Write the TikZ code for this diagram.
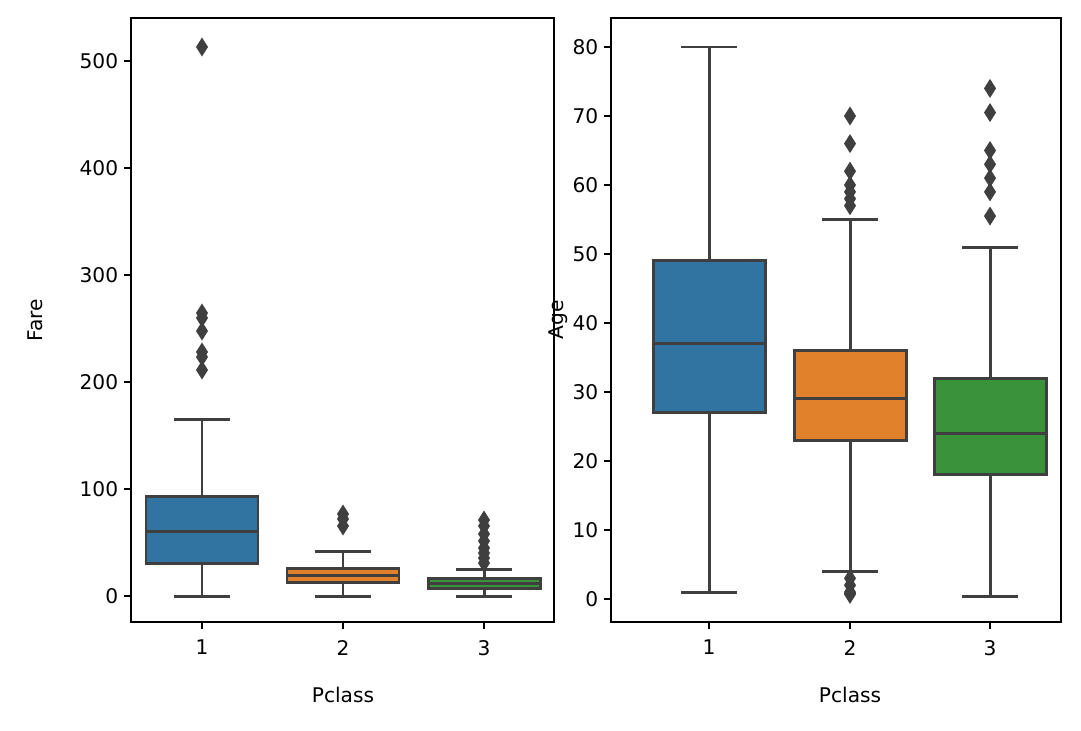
\documentclass[tikz,border=0pt]{standalone}
\usepackage{fontspec}
\setmainfont{DejaVu Sans}
\usetikzlibrary{shapes.geometric}
\definecolor{boxblue}{HTML}{3274A1}
\definecolor{boxorange}{HTML}{E1812C}
\definecolor{boxgreen}{HTML}{3A923A}
\definecolor{edgegray}{HTML}{3F3F3F}

\begin{document}
\begin{tikzpicture}[x=0.02cm, y=-0.02cm, font=\fontsize{11.5}{13}\selectfont,
                boxpart/.style ={draw=edgegray, line width=1.7pt},
                whisk/.style ={edgegray, line width=1.7pt},
                outl/.style ={diamond, fill=edgegray, inner sep=0pt, minimum width=7pt, minimum height=11pt},
                tick/.style ={black, line width=0.6pt}]
            \useasboundingbox (0,0) rectangle (1081,730);

            % left panel: Fare
            \foreach \v/\p in {0/596, 100/489, 200/382, 300/275, 400/168, 500/61}{
                \draw[tick] (131,\p) -- (124,\p) node[left, inner sep=3pt] {\v};}
            \foreach \c/\k in {202/1, 343/2, 484/3}{
                \draw[tick] (\c,622) -- (\c,629) node[below, inner sep=6pt] {\k};}
            \node[rotate=90] (fare) at (35,320) {Fare};
            \node (pclassa) at (343,695) {Pclass};

            \draw[whisk] (202,496) -- (202,419) (174,419) -- (230,419);
            \draw[whisk] (202,563) -- (202,596) (174,596) -- (230,596);
            \draw[boxpart, fill=boxblue] (146,496) rectangle (258,563);
            \draw[whisk] (146,531) -- (258,531);
            \foreach \y in {47, 313, 318, 331, 352, 357, 370}{
                \node[outl] at (202,\y) {};}

            \draw[whisk] (343,568) -- (343,551) (315,551) -- (371,551);
            \draw[whisk] (343,582) -- (343,596) (315,596) -- (371,596);
            \draw[boxpart, fill=boxorange] (287,568) rectangle (399,582);
            \draw[whisk] (287,575) -- (399,575);
            \foreach \y in {514, 519, 526}{
                \node[outl] at (343,\y) {};}

            \draw[whisk] (484,578) -- (484,569) (456,569) -- (512,569);
            \draw[whisk] (484,588) -- (484,596) (456,596) -- (512,596);
            \draw[boxpart, fill=boxgreen] (428,578) rectangle (540,588);
            \draw[whisk] (428,583) -- (540,583);
            \foreach \y in {520, 526, 534, 541, 548, 553, 558, 563}{
                \node[outl] at (484,\y) {};}

            \draw[line width=0.7pt] (131,18) rectangle (554,622);

            % right panel: Age
            \foreach \v in {0,10,...,80}{
                \draw[tick] (611,{599-6.9*\v}) -- (604,{599-6.9*\v}) node[left, inner sep=3pt] {\v};}
            \foreach \c/\k in {709/1, 850/2, 990/3}{
                \draw[tick] (\c,622) -- (\c,629) node[below, inner sep=6pt] {\k};}
            \node[rotate=90] (age) at (558,320) {Age};
            \node (pclassb) at (850,695) {Pclass};

            \draw[whisk] (709,{599-6.9*49}) -- (709,{599-6.9*80}) (681,{599-6.9*80}) -- (737,{599-6.9*80});
            \draw[whisk] (709,{599-6.9*27}) -- (709,{599-6.9*0.92}) (681,{599-6.9*0.92}) -- (737,{599-6.9*0.92});
            \draw[boxpart, fill=boxblue] (653,{599-6.9*27}) rectangle (765,{599-6.9*49});
            \draw[whisk] (653,{599-6.9*37}) -- (765,{599-6.9*37});

            \draw[whisk] (850,{599-6.9*36}) -- (850,{599-6.9*55}) (822,{599-6.9*55}) -- (878,{599-6.9*55});
            \draw[whisk] (850,{599-6.9*23}) -- (850,{599-6.9*4}) (822,{599-6.9*4}) -- (878,{599-6.9*4});
            \draw[boxpart, fill=boxorange] (794,{599-6.9*23}) rectangle (906,{599-6.9*36});
            \draw[whisk] (794,{599-6.9*29}) -- (906,{599-6.9*29});
            \foreach \a in {57, 58, 59, 60, 62, 66, 70, 0.67, 0.83, 1, 2, 3}{
                \node[outl] at (850,{599-6.9*\a}) {};}

            \draw[whisk] (990,{599-6.9*32}) -- (990,{599-6.9*51}) (962,{599-6.9*51}) -- (1018,{599-6.9*51});
            \draw[whisk] (990,{599-6.9*18}) -- (990,{599-6.9*0.42}) (962,{599-6.9*0.42}) -- (1018,{599-6.9*0.42});
            \draw[boxpart, fill=boxgreen] (934,{599-6.9*18}) rectangle (1046,{599-6.9*32});
            \draw[whisk] (934,{599-6.9*24}) -- (1046,{599-6.9*24});
            \foreach \a in {55.5, 59, 61, 63, 65, 70.5, 74}{
                \node[outl] at (990,{599-6.9*\a}) {};}

            \draw[line width=0.7pt] (611,18) rectangle (1061,622);
\end{tikzpicture}
\end{document}
